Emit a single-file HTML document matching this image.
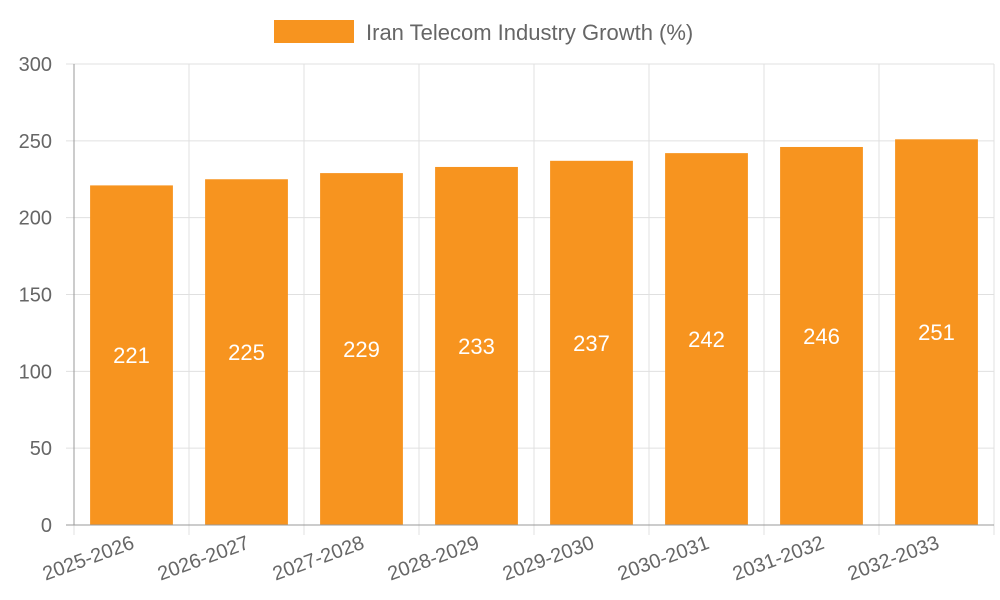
<!DOCTYPE html>
<html><head><meta charset="utf-8"><style>
body{margin:0;background:#fff;}
svg{display:block;font-family:"Liberation Sans",sans-serif;}
</style></head><body>
<svg id="chart" width="1000" height="600">
<g id="legend">
<rect x="274" y="20" width="80" height="23" fill="#F7941F"></rect>
<text x="366" y="40" font-size="22" fill="#666">Iran Telecom Industry Growth (%)</text>
</g>
<g id="grid"></g>
<g id="bars"></g>
<g id="axes"></g>
</svg>
<script>
const categories=["2025-2026","2026-2027","2027-2028","2028-2029","2029-2030","2030-2031","2031-2032","2032-2033"];
const values=[221,225,229,233,237,242,246,251];
const yTicks=[0,50,100,150,200,250,300];
const NS="http://www.w3.org/2000/svg";
const L=74,R=994,T=64,B=525,yMax=300;
const bw=(R-L)/categories.length;
const y=v=>B-(v/yMax)*(B-T);
const xc=i=>L+bw*(i+0.5);
function mk(tag,attrs,parent){const e=document.createElementNS(NS,tag);for(const k in attrs)e.setAttribute(k,attrs[k]);document.getElementById(parent).appendChild(e);return e;}
yTicks.forEach(t=>{
 const l=mk("line",{x1:L-8,x2:R,y1:y(t),y2:y(t),stroke:"#e0e0e0","stroke-width":1},"grid");
 
 
 const tx=mk("text",{x:L-22,y:y(t)+7,"text-anchor":"end","font-size":20,fill:"#666"},"axes");
 tx.textContent=t;
 
 
});
for(let i=0;i<=categories.length;i++){
 const x=L+bw*i;
 const l=mk("line",{x1:x,x2:x,y1:T,y2:B+10,stroke:"#e0e0e0","stroke-width":1},"grid");
 
 
}
const ax=mk("line",{x1:L,x2:L,y1:T,y2:B,stroke:"#999","stroke-width":1},"axes");


const ax2=mk("line",{x1:L-8,x2:R,y1:B,y2:B,stroke:"#999","stroke-width":1},"axes");


categories.forEach((c,i)=>{
 const w=bw*0.72;
 const r=mk("rect",{x:xc(i)-w/2,y:y(values[i]),width:w,height:B-y(values[i]),fill:"#F7941F"},"bars");
 
 
 const v=mk("text",{x:xc(i),y:(y(values[i])+B)/2+8,"text-anchor":"middle","font-size":22,fill:"#fff"},"bars");
 v.textContent=values[i];
 
 
 const tx=mk("text",{x:xc(i)+4,y:548,"text-anchor":"end","font-size":20,fill:"#666",transform:`rotate(-20 ${xc(i)+4} 548)`},"axes");
 tx.textContent=c;
 
 
});
</script>
</body></html>
